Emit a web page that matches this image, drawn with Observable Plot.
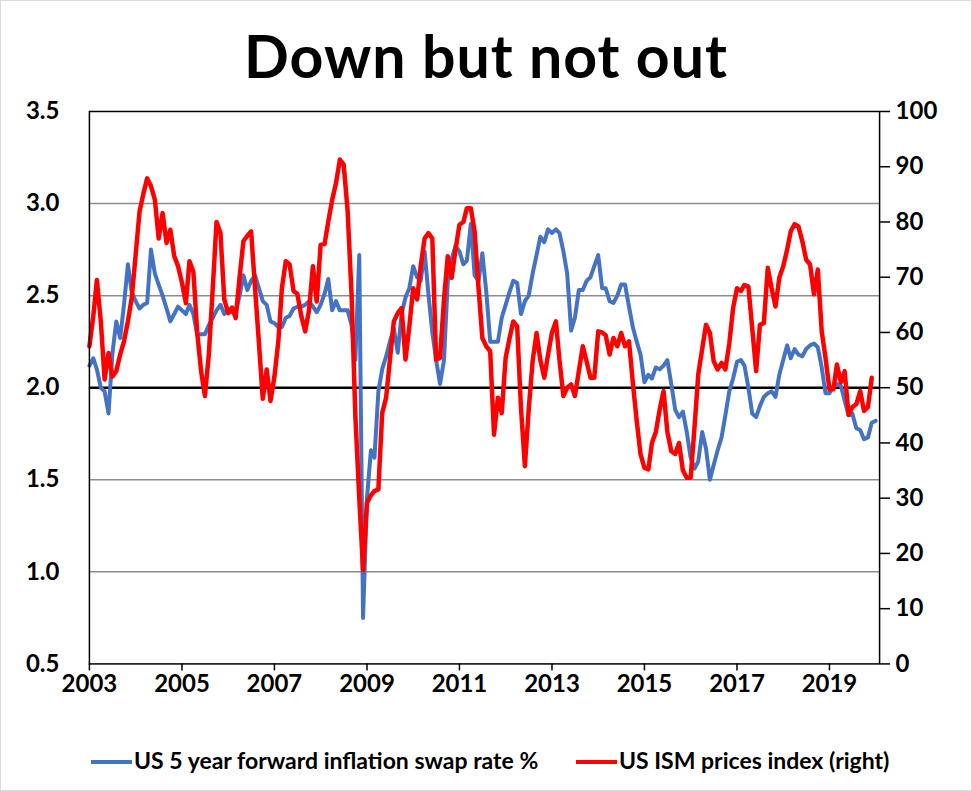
<!DOCTYPE html>
<html><head><meta charset="utf-8">
<script src="https://cdn.jsdelivr.net/npm/d3@7"></script>
<script src="https://cdn.jsdelivr.net/npm/@observablehq/plot@0.6"></script>
<style>
html,body{margin:0;padding:0;background:#fff;}
#wrap{position:relative;width:970px;height:789px;border:1px solid #d9d9d9;overflow:hidden;font-family:Lato,"Open Sans",sans-serif;font-weight:bold;color:#000;}
#title{position:absolute;left:0;top:25px;width:970px;text-align:center;font-size:59px;line-height:59px;letter-spacing:1px;font-weight:bold;}
#chart{position:absolute;left:-1px;top:99px;}
#legend{position:absolute;left:0;top:746px;width:970px;height:26px;font-size:23px;line-height:26px;}
.item{position:absolute;top:0;white-space:nowrap;}
.sw{display:inline-block;width:41px;height:4px;vertical-align:middle;margin-right:2px;position:relative;top:-1px;}
</style>
</head><body>
<div id="wrap">
  <div id="title">Down but not out</div>
  <div id="chart"></div>
  <div id="legend">
    <div class="item" style="left:90px"><span class="sw" style="background:#4472C4"></span>US 5 year forward inflation swap rate %</div>
    <div class="item" style="left:575px"><span class="sw" style="background:#FF0000"></span>US ISM prices index (right)</div>
  </div>
</div>
<script>
// Monthly series starting January 2003
const startYear = 2003;
// US 5 year forward inflation swap rate, % (left axis)
const swapRate = [
  2.12,2.16,2.10,2.00,1.98,1.86,2.18,2.36,2.27,2.45,2.67,2.52,
  2.47,2.43,2.45,2.46,2.75,2.62,2.56,2.50,2.43,2.36,2.40,2.44,
  2.42,2.40,2.45,2.40,2.29,2.29,2.29,2.34,2.38,2.42,2.45,2.40,
  2.42,2.41,2.41,2.50,2.61,2.53,2.58,2.61,2.54,2.47,2.45,2.36,
  2.35,2.33,2.33,2.38,2.39,2.43,2.44,2.44,2.45,2.47,2.44,2.41,
  2.45,2.51,2.59,2.42,2.47,2.42,2.42,2.42,2.34,2.15,2.72,0.75,
  1.40,1.66,1.62,1.98,2.10,2.17,2.25,2.32,2.19,2.40,2.49,2.54,
  2.66,2.60,2.58,2.74,2.51,2.30,2.15,2.02,2.15,2.58,2.70,2.77,
  2.74,2.67,2.69,2.89,2.61,2.58,2.73,2.52,2.25,2.25,2.25,2.38,
  2.45,2.52,2.58,2.57,2.40,2.47,2.50,2.62,2.72,2.82,2.79,2.86,
  2.84,2.86,2.84,2.74,2.62,2.31,2.38,2.53,2.53,2.58,2.60,2.66,
  2.72,2.54,2.54,2.47,2.46,2.50,2.56,2.56,2.44,2.33,2.25,2.18,
  2.03,2.07,2.05,2.11,2.10,2.12,2.15,2.02,1.88,1.84,1.87,1.76,
  1.62,1.56,1.60,1.76,1.67,1.50,1.58,1.66,1.73,1.85,1.98,2.05,
  2.14,2.15,2.12,2.00,1.86,1.84,1.90,1.95,1.97,1.98,1.95,2.07,
  2.15,2.23,2.16,2.21,2.18,2.17,2.21,2.23,2.24,2.22,2.11,1.97,
  1.97,2.01,2.02,2.01,1.93,1.85,1.86,1.78,1.77,1.72,1.73,1.81,
  1.82
];
// US ISM prices index (right axis)
const ismPrices = [
  57.5,63,69.5,62,51.5,56.3,52,53,56,58.4,62,66.2,
  74,81.9,85,87.9,86.5,84,77,81.6,76.2,78.6,73.8,72,
  69,65.3,72.9,71,60,53,48.5,56,68,80,78,66,
  63.5,64.5,62.6,70,76.5,77.5,78.3,68,58,48,53.3,47.6,
  52,58.4,68,72.9,72.3,67.5,67,63,60.2,64,72,65.6,
  75.9,76,80,84,87,91.3,90.4,82,67,45,30,17,
  29.2,30.5,31.3,31.6,45.4,48.2,55,62,63.5,64.4,55.1,61,
  68,66,72,77,78,77,55.1,55.4,66,73.8,69.9,75,
  79.5,80,82.5,82.5,78.3,68,59,57.5,56.6,41.5,48.2,45.4,
  55.4,59,62,61.1,46.4,35.8,46,54.8,59.9,55,51.8,56,
  60,62,55,48.5,50,50.6,48.5,53,57.5,54.8,51.8,51.8,
  60.2,60,59.5,56,59,57.5,59.9,57.5,58.4,51,44,38,
  35.5,35.2,40,42,46,49.4,42,38.5,38,40,35,33.7,
  33.7,43,52.4,57,61.4,59.9,54.8,53.3,54.5,53.3,58,64.4,
  68,67.5,68.6,68.3,60.8,53,61.4,61.7,71.7,68,64.7,69.9,
  72,75,78.3,79.6,79.2,76.5,73.2,72.3,66.9,71.4,60.2,55.4,
  49.7,49.7,54.2,51,53,45.1,46.5,47,49.4,45.8,46.5,51.8
];
const leftTicks = [0.5,1.0,1.5,2.0,2.5,3.0,3.5];
const rightTicks = [0,10,20,30,40,50,60,70,80,90,100];
const gridLevels = [1.0,1.5,2.5,3.0];
const baseLevel = 2.0;
const yearTicks = [2003,2005,2007,2009,2011,2013,2015,2017,2019];

// right axis (0..100) mapped onto left axis (0.5..3.5)
const toLeft = r => 0.5 + r * 3 / 100;
const toRight = v => (v - 0.5) * 100 / 3;

const blueData = swapRate.map((v, i) => ({date: new Date(startYear, i, 1), v}));
const redData = ismPrices.map((r, i) => ({date: new Date(startYear, i, 1), v: toLeft(r)}));

const chart = Plot.plot({
  width: 972,
  height: 604,
  marginTop: 11,
  marginBottom: 40,
  marginLeft: 89,
  marginRight: 92,
  style: {fontFamily: "Lato, 'Open Sans', sans-serif", fontWeight: "bold", fontSize: "24px", color: "#000", background: "transparent", overflow: "visible"},
  x: {type: "time", domain: [new Date(2003, 0, 1), new Date(2020, 1, 1)]},
  y: {domain: [0.5, 3.5]},
  marks: [
    Plot.ruleY(gridLevels, {stroke: "#8c8c8c", strokeWidth: 1.5}),
    Plot.ruleY([baseLevel], {stroke: "#000", strokeWidth: 2.5}),
    Plot.lineY(blueData, {x: "date", y: "v", stroke: "#4472C4", strokeWidth: 4, strokeLinejoin: "round"}),
    Plot.lineY(redData, {x: "date", y: "v", stroke: "#FF0000", strokeWidth: 4.5, strokeLinejoin: "round"}),
    Plot.frame({stroke: "#000", strokeWidth: 1.5}),
    Plot.axisY({anchor: "left", ticks: leftTicks, tickSize: 0, tickPadding: 30, tickFormat: d => d.toFixed(1), label: null}),
    Plot.axisY({anchor: "right", ticks: rightTicks.map(toLeft), tickSize: 10, tickPadding: 6, strokeWidth: 1.5,
      tickFormat: v => String(Math.round(toRight(v))), label: null}),
    Plot.axisX({ticks: yearTicks.map(y => new Date(y, 0, 1)), tickSize: 7, tickPadding: 4, strokeWidth: 1.5,
      tickFormat: d => String(d.getFullYear()), label: null})
  ]
});
document.getElementById("chart").appendChild(chart);
</script>
</body></html>
